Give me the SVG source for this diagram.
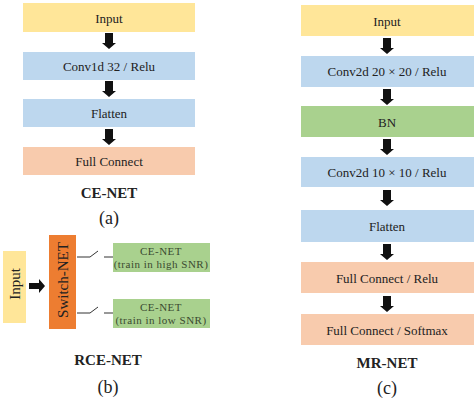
<svg xmlns="http://www.w3.org/2000/svg" width="474" height="402" viewBox="0 0 474 402">
<style>
text{font-family:"Liberation Serif","Times New Roman",serif;fill:#222;text-anchor:middle;dominant-baseline:central}
.t{font-size:13px}
.s{font-size:11px;letter-spacing:0.5px;fill:#3a4a30}
.lb{font-size:15px;font-weight:bold}
.cap{font-size:18px}
.yel{fill:#FFE699}
.blu{fill:#BDD7EE}
.ora{fill:#F8CBAD}
.grn{fill:#A9D18E}
.sw{fill:#ED7D31}
.arr{fill:#111}
.ln{stroke:#333;stroke-width:1;fill:none}
</style>
<defs>
<path id="da" d="M-4,0 H4 V10 H7 L0,16 L-7,10 H-4 Z"/>
</defs>
<rect width="474" height="402" fill="#fff"/>
<g id="ce-input"><rect class="yel" x="23" y="3" width="172" height="29"/><text class="t" x="109" y="18">Input</text></g>
<g id="ce-conv"><rect class="blu" x="23" y="52" width="172" height="28"/><text class="t" x="109" y="66">Conv1d 32 / Relu</text></g>
<g id="ce-flatten"><rect class="blu" x="23" y="99" width="172" height="28"/><text class="t" x="109" y="113">Flatten</text></g>
<g id="ce-fc"><rect class="ora" x="23" y="147" width="172" height="28"/><text class="t" x="109" y="161">Full Connect</text></g>
<text class="lb" x="109" y="193">CE-NET</text>
<text class="cap" x="109" y="218">(a)</text>

<g id="rce-input"><rect class="yel" x="3" y="251" width="23" height="72"/><text class="t" style="font-size:15px" transform="translate(15,284) rotate(-90)">Input</text></g>
<g id="switch"><rect class="sw" x="49" y="235" width="27" height="94"/><text class="t" style="font-size:15px" transform="translate(63,280) rotate(-90)">Switch-NET</text></g>
<g id="ce-high"><rect class="grn" x="113" y="243" width="97" height="29"/><text class="s" x="161" y="251">CE-NET</text><text class="s" x="161" y="264">(train in high SNR)</text></g>
<g id="ce-low"><rect class="grn" x="113" y="299" width="97" height="29"/><text class="s" x="161" y="307">CE-NET</text><text class="s" x="161" y="320">(train in low SNR)</text></g>
<text class="lb" x="108" y="360">RCE-NET</text>
<text class="cap" x="108" y="387">(b)</text>

<g id="mr-input"><rect class="yel" x="301" y="5" width="173" height="31"/><text class="t" x="387" y="21">Input</text></g>
<g id="mr-conv20"><rect class="blu" x="301" y="56" width="173" height="31"/><text class="t" x="387" y="71">Conv2d 20 × 20 / Relu</text></g>
<g id="mr-bn"><rect class="grn" x="301" y="106" width="173" height="31"/><text class="t" x="387" y="122">BN</text></g>
<g id="mr-conv10"><rect class="blu" x="301" y="157" width="173" height="30"/><text class="t" x="387" y="172">Conv2d 10 ×  10 / Relu</text></g>
<g id="mr-flatten"><rect class="blu" x="301" y="210" width="173" height="32"/><text class="t" x="387" y="226">Flatten</text></g>
<g id="mr-fc1"><rect class="ora" x="301" y="262" width="173" height="31"/><text class="t" x="387" y="278">Full Connect / Relu</text></g>
<g id="mr-fc2"><rect class="ora" x="301" y="314" width="173" height="31"/><text class="t" x="387" y="330">Full Connect / Softmax</text></g>
<text class="lb" x="387" y="363">MR-NET</text>
<text class="cap" x="387" y="388">(c)</text>

<g id="connectors">
<use href="#da" class="arr" x="109" y="33"/>
<use href="#da" class="arr" x="109" y="81"/>
<use href="#da" class="arr" x="109" y="129"/>
<use href="#da" class="arr" x="387" y="38"/>
<use href="#da" class="arr" x="387" y="89"/>
<use href="#da" class="arr" x="387" y="139"/>
<use href="#da" class="arr" x="387" y="190"/>
<use href="#da" class="arr" x="387" y="244"/>
<use href="#da" class="arr" x="387" y="296"/>
<path class="arr" d="M29,283 H39 V279 L45,286 L39,293 V289 H29 Z"/>
<path class="ln" d="M77,257 H90 L98,251 M104,257 H113"/>
<path class="ln" d="M77,313 H90 L98,307 M104,313 H113"/>
</g>
</svg>
